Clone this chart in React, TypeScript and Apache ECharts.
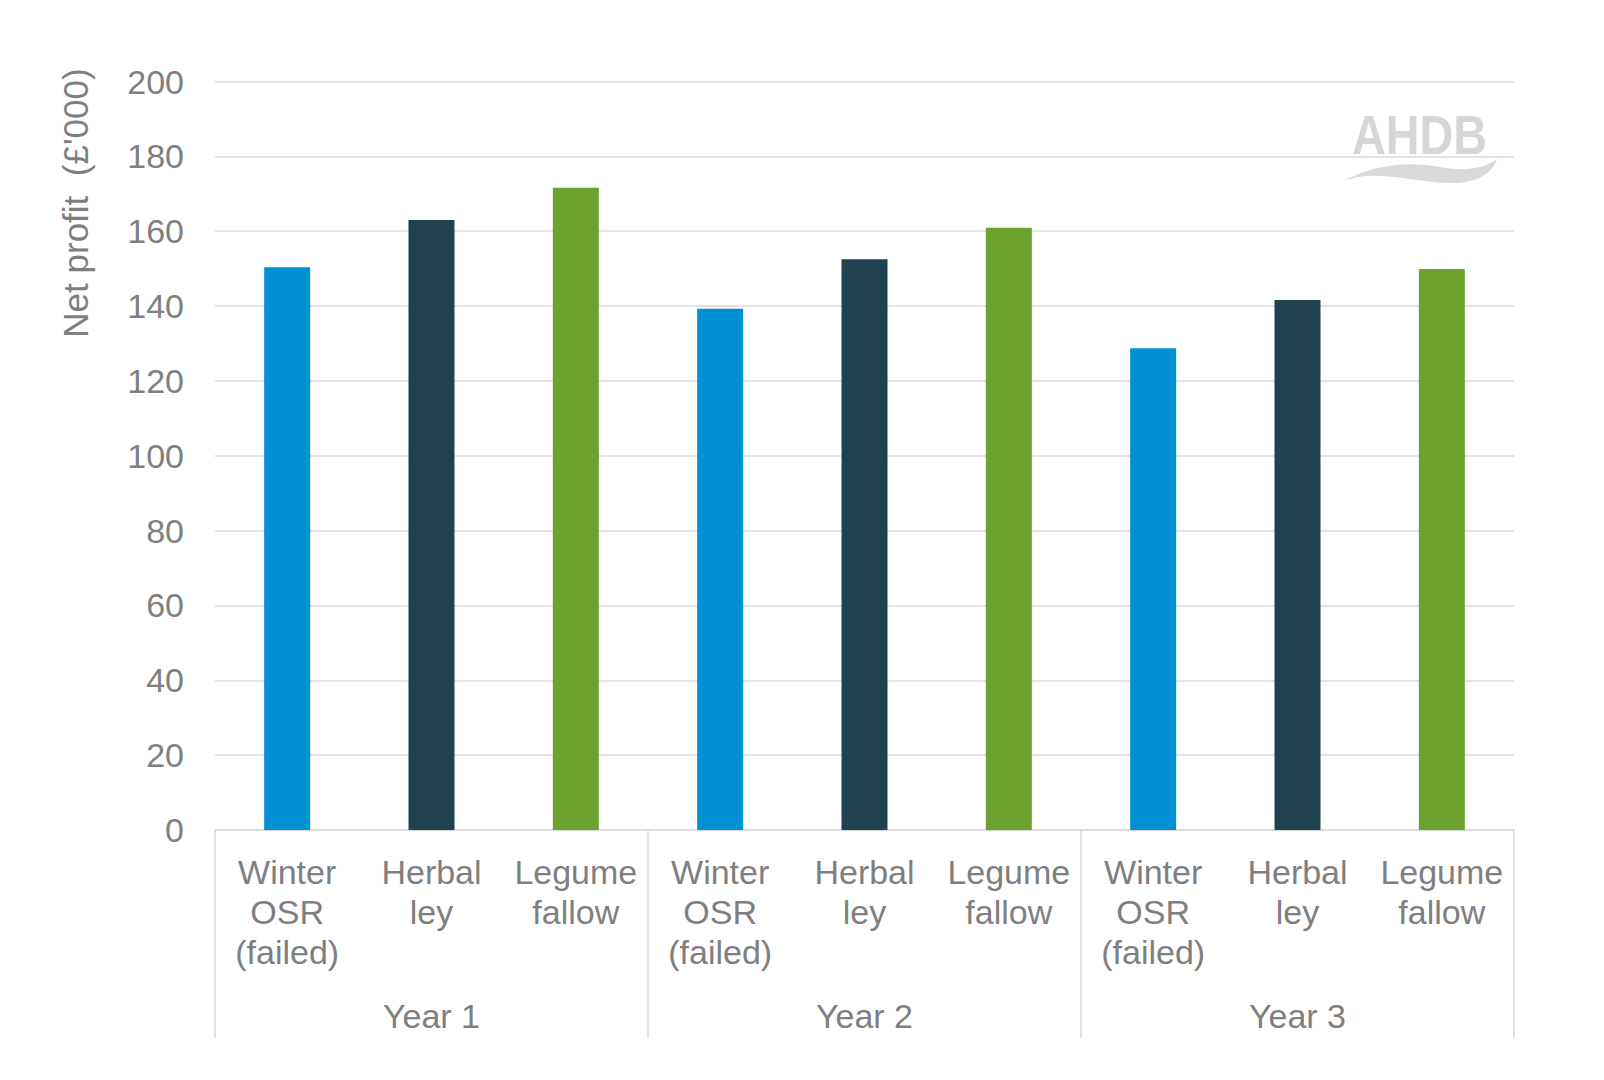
import React, { useEffect, useRef } from "react";
import * as echarts from "echarts";

const crops = ["Winter\nOSR\n(failed)", "Herbal\nley", "Legume\nfallow"];
const years = ["Year 1", "Year 2", "Year 3"];
const winterOSR = [150.4, 139.3, 128.7];
const herbalLey = [163.0, 152.5, 141.6];
const legumeFallow = [171.6, 160.9, 149.9];
const cropColors = ["#0090D4", "#20424F", "#6EA22F"];
const yTicks = { min: 0, max: 200, interval: 20 };
const yAxisTitle = "Net profit  (£'000)";
const logoText = "AHDB";

const swooshPath =
  "M1343,181 C1375,164 1410,161 1440,167 C1462,171 1482,170 1497,159 C1492,175 1474,184 1448,183 C1420,182 1390,174 1365,176 C1356,177 1349,179 1343,181 Z";

export default function App() {
  const ref = useRef<HTMLDivElement>(null);
  useEffect(() => {
    document.body.style.margin = "0";
    document.body.style.overflow = "hidden";
    echarts.graphic.registerShape("swoosh", echarts.graphic.extendPath(swooshPath, {}) as any);
    const chart = echarts.init(ref.current!, null, { renderer: "svg" });
    const series = [winterOSR, herbalLey, legumeFallow];
    const categories: string[] = [];
    const data: any[] = [];
    years.forEach((_, yi) => {
      crops.forEach((c, ci) => {
        categories.push(c);
        data.push({ value: series[ci][yi], itemStyle: { color: cropColors[ci] } });
      });
    });
    const font = "'Liberation Sans', Arial, sans-serif";
    chart.setOption({
      animation: false,
      backgroundColor: "#ffffff",
      textStyle: { fontFamily: font },
      grid: { left: 215, right: 90, top: 81.5, bottom: 250, containLabel: false },
      xAxis: [
        {
          type: "category",
          data: categories,
          axisLine: { show: true, lineStyle: { color: "#D9D9D9", width: 1.5 } },
          axisTick: { show: false },
          axisLabel: {
            interval: 0,
            color: "#7F7F7F",
            fontSize: 34,
            lineHeight: 40,
            margin: 22,
            fontFamily: font,
          },
        },
        {
          type: "category",
          data: years,
          position: "bottom",
          axisLine: { show: false },
          axisTick: { show: true, length: 208, interval: 0, lineStyle: { color: "#D9D9D9", width: 1.5 } },
          axisLabel: { color: "#7F7F7F", fontSize: 34, margin: 169, fontFamily: font },
          splitLine: { show: false },
        },
      ],
      yAxis: {
        type: "value",
        min: yTicks.min,
        max: yTicks.max,
        interval: yTicks.interval,
        axisLine: { show: false },
        axisTick: { show: false },
        axisLabel: { color: "#7F7F7F", fontSize: 34, margin: 31, fontFamily: font },
        splitLine: { lineStyle: { color: "#D9D9D9", width: 1.5 } },
      },
      series: [
        {
          type: "bar",
          xAxisIndex: 0,
          data,
          barWidth: 46,
        },
      ],
      graphic: [
        {
          type: "text",
          x: 75,
          y: 203,
          rotation: Math.PI / 2,
          style: {
            text: yAxisTitle,
            fill: "#7F7F7F",
            fontSize: 35,
            fontFamily: font,
            textAlign: "center",
            textVerticalAlign: "middle",
          },
        },
        {
          type: "text",
          x: 1352,
          y: 135,
          scaleX: 0.85,
          style: {
            text: logoText,
            fill: "#D6D6D6",
            fontSize: 55,
            fontWeight: "bold",
            fontFamily: font,
            textAlign: "left",
            textVerticalAlign: "middle",
          },
        },
        {
          type: "swoosh",
          x: 0,
          y: 0,
          style: { fill: "#D9D9D9" },
        },
      ],
    });
    return () => chart.dispose();
  }, []);
  return (
    <div
      ref={ref}
      style={{ position: "absolute", left: 0, top: 0, width: 1604, height: 1080 }}
    />
  );
}
